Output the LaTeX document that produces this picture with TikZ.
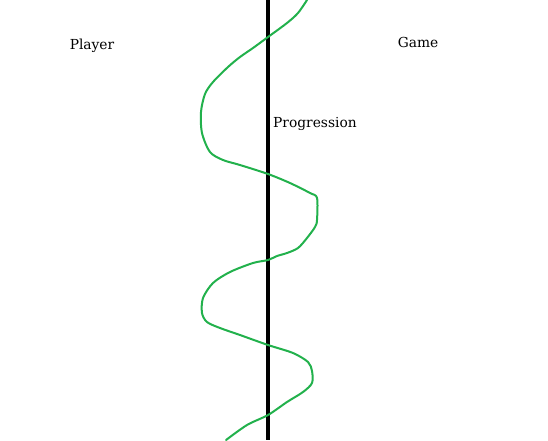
\documentclass[tikz,border=0pt]{standalone}
\usepackage{fontspec}
\setmainfont{DejaVu Serif}
\definecolor{paintgreen}{RGB}{34,177,76}
\tikzset{
  lbl/.style={font=\fontsize{13.8}{16}\selectfont, inner sep=0pt},
  axisline/.style={line width=4pt, black},
  wave/.style={line width=2pt, paintgreen, line join=round, line cap=round}
}
\begin{document}
\begin{tikzpicture}[x=1pt,y=-1pt]
\useasboundingbox (0,0) rectangle (548,440);
\coordinate (top) at (268,0);
\coordinate (bottom) at (268,440);
\draw[axisline] (top) -- (bottom);
\draw[wave] plot[smooth, tension=0.5] coordinates {
 (307,0) (298,13) (287,23) (268,37) (253,48) (240,57) (228,67) (213,82)
 (205,94) (201,112) (202,133) (210,152) (223,160) (240,165) (268,174)
 (290,183) (310,193) (317,198) (317,220) (315,227) (307,238) (298,248)
 (287,253) (277,256) (268,260) (253,263) (230,272) (213,283) (203,298)
 (202,313) (207,322) (220,328) (240,335) (268,345) (293,353) (308,362)
 (312,371) (312,383) (303,392) (287,402) (268,415) (247,425) (226,440)};
\node[lbl, anchor=base] (player) at (92,49) {Player};
\node[lbl, anchor=base] (game) at (418,47) {Game};
\node[lbl, anchor=base west] (progression) at (273,127) {Progression};
\end{tikzpicture}
\end{document}
